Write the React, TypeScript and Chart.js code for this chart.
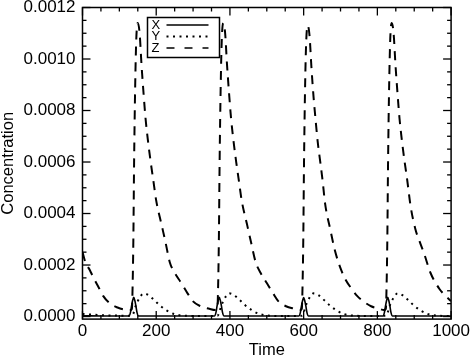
import React, { useEffect, useRef } from "react";
import { Chart, registerables } from "chart.js";

Chart.register(...registerables);

// ---- data ----
const xTicks = [0, 200, 400, 600, 800, 1000];
const yTicks = [0, 0.0002, 0.0004, 0.0006, 0.0008, 0.001, 0.0012];
const xMinorTicks = [50, 100, 150, 250, 300, 350, 450, 500, 550, 650, 700, 750, 850, 900, 950];
const yMinorTicks = [0.00005, 0.0001, 0.00015, 0.00025, 0.0003, 0.00035, 0.00045, 0.0005, 0.00055, 0.00065, 0.0007, 0.00075, 0.00085, 0.0009, 0.00095, 0.00105, 0.0011, 0.00115];

const seriesNames = ["X", "Y", "Z"];

const xTime = [0, 60, 126, 130, 133, 136, 139, 142, 145, 148, 152, 250, 358, 362, 365, 368, 371, 374, 377, 380, 384, 490, 587, 591, 594, 597, 600, 603, 606, 609, 613, 720, 815, 819, 822, 825, 828, 831, 834, 837, 841, 920, 1000];
const xVals = [0.000003, 0.000002, 0.000002, 0.000015, 0.00004, 0.000062, 0.000075, 0.000062, 0.00004, 0.000015, 0.000002, 0.000002, 0.000002, 0.000015, 0.00004, 0.000062, 0.000075, 0.000062, 0.00004, 0.000015, 0.000002, 0.000002, 0.000002, 0.000015, 0.00004, 0.000061, 0.000074, 0.000061, 0.00004, 0.000015, 0.000002, 0.000002, 0.000002, 0.000015, 0.00004, 0.000062, 0.000075, 0.000062, 0.00004, 0.000015, 0.000002, 0.000002, 0.000002];

const yTime = [0, 30, 80, 134, 139, 144, 150, 158, 166, 179, 196, 210, 228, 250, 279, 320, 366, 371, 376, 382, 390, 398, 411, 428, 442, 460, 482, 511, 550, 595, 600, 605, 611, 619, 627, 640, 657, 671, 689, 711, 740, 780, 823, 828, 833, 839, 847, 855, 868, 885, 899, 917, 939, 968, 1000];
const yVals = [0.00001, 0.000007, 0.000004, 0.000003, 0.000015, 0.00004, 0.00006, 0.00008, 0.00009, 0.000083, 0.000062, 0.000043, 0.000024, 0.000009, 0.000003, 0.000002, 0.000003, 0.000015, 0.00004, 0.00006, 0.00008, 0.00009, 0.000083, 0.000062, 0.000043, 0.000024, 0.000009, 0.000003, 0.000002, 0.000003, 0.000015, 0.00004, 0.00006, 0.00008, 0.00009, 0.000083, 0.000062, 0.000043, 0.000024, 0.000009, 0.000003, 0.000002, 0.000003, 0.000015, 0.00004, 0.00006, 0.00008, 0.00009, 0.000083, 0.000062, 0.000043, 0.000024, 0.000009, 0.000003, 0.000002];

const zTime = [0, 8, 20, 30, 45, 56, 75, 95, 115, 130, 134, 136, 138, 140, 143, 146, 150, 155, 160, 166, 171, 177, 185, 192, 200, 214, 225, 237, 250, 268, 285, 299, 320, 344, 360, 366, 368, 370, 372, 375, 378, 382, 387, 392, 398, 403, 409, 417, 424, 432, 446, 457, 470, 483, 500, 517, 531, 552, 576, 590, 595, 597, 599, 601, 604, 607, 611, 616, 621, 627, 632, 638, 646, 652, 658, 672, 685, 702, 715, 729, 745, 761, 783, 806, 818, 823, 825, 827, 829, 832, 835, 839, 844, 849, 855, 860, 866, 874, 881, 890, 903, 915, 927, 944, 968, 985, 1000];
const zVals = [0.00025, 0.00021, 0.00018, 0.00015, 0.00011, 0.00008, 0.00005, 0.000035, 0.000027, 0.000025, 0.00003, 0.00012, 0.0003, 0.0006, 0.0009, 0.00108, 0.00114, 0.0011, 0.00098, 0.00086, 0.00077, 0.00069, 0.0006, 0.00053, 0.00045, 0.00036, 0.00029, 0.00021, 0.00017, 0.00013, 0.00009, 0.00006, 0.00004, 0.00003, 0.000025, 0.00003, 0.00012, 0.0003, 0.0006, 0.0009, 0.00108, 0.00114, 0.0011, 0.00098, 0.00086, 0.00077, 0.00069, 0.0006, 0.00053, 0.00045, 0.00036, 0.00029, 0.00021, 0.00017, 0.00013, 0.00009, 0.00006, 0.00004, 0.00003, 0.000025, 0.00003, 0.00012, 0.0003, 0.0006, 0.0009, 0.00107, 0.00113, 0.00109, 0.00097, 0.00085, 0.00077, 0.00068, 0.00059, 0.00052, 0.00044, 0.00034, 0.000255, 0.00018, 0.00014, 0.00011, 0.00008, 0.00006, 0.00004, 0.00003, 0.000025, 0.00003, 0.00012, 0.0003, 0.0006, 0.0009, 0.00108, 0.00114, 0.0011, 0.00098, 0.00086, 0.00077, 0.00069, 0.0006, 0.00053, 0.00043, 0.00034, 0.00029, 0.000244, 0.00017, 0.000108, 0.00008, 0.00006];

const FONT = "'Liberation Sans', Arial, Helvetica, sans-serif";
const Y_DASH = [2, 4.5];
const Z_DASH = [9, 7];

const toPts = (t: number[], v: number[]) => t.map((tt, i) => ({ x: tt, y: v[i] }));

const framePlugin = {
  id: "frameTicks",
  afterDatasetsDraw(chart: any) {
    const { ctx, chartArea: a, scales } = chart;
    const xs = scales.x;
    const ys = scales.y;
    ctx.save();
    ctx.strokeStyle = "#000";
    ctx.lineWidth = 1.5;
    ctx.strokeRect(a.left, a.top, a.right - a.left, a.bottom - a.top);
    ctx.lineWidth = 1.3;
    const seg = (x1: number, y1: number, x2: number, y2: number) => {
      ctx.beginPath();
      ctx.moveTo(x1, y1);
      ctx.lineTo(x2, y2);
      ctx.stroke();
    };
    const xt = (vals: number[], len: number) =>
      vals.forEach((v) => {
        const p = xs.getPixelForValue(v);
        seg(p, a.bottom, p, a.bottom - len);
        seg(p, a.top, p, a.top + len);
      });
    const yt = (vals: number[], len: number) =>
      vals.forEach((v) => {
        const p = ys.getPixelForValue(v);
        seg(a.left, p, a.left + len, p);
        seg(a.right, p, a.right - len, p);
      });
    xt(xTicks, 8);
    xt(xMinorTicks, 4);
    yt(yTicks, 8);
    yt(yMinorTicks, 4);
    ctx.restore();
  },
};

const legendPlugin = {
  id: "boxLegend",
  afterDraw(chart: any) {
    const { ctx, chartArea: a } = chart;
    const left = a.left + 65;
    const top = a.top + 10;
    const w = 72;
    const h = 40;
    ctx.save();
    ctx.fillStyle = "#fff";
    ctx.fillRect(left, top, w, h);
    ctx.strokeStyle = "#000";
    ctx.lineWidth = 1.5;
    ctx.strokeRect(left, top, w, h);
    ctx.font = `13px ${FONT}`;
    ctx.fillStyle = "#000";
    ctx.textBaseline = "middle";
    const dashes = [[], Y_DASH, [8, 10]];
    seriesNames.forEach((name, i) => {
      const cy = top + 7.5 + i * 11.5;
      ctx.fillText(name, left + 4, cy);
      ctx.setLineDash(dashes[i]);
      ctx.lineWidth = i === 1 ? 2 : 1.6;
      ctx.beginPath();
      ctx.moveTo(left + 19, cy);
      ctx.lineTo(left + 61, cy);
      ctx.stroke();
    });
    ctx.restore();
  },
};

export default function App() {
  const ref = useRef<HTMLCanvasElement | null>(null);
  useEffect(() => {
    document.body.style.margin = "0";
    const chart = new Chart(ref.current as HTMLCanvasElement, {
      type: "line",
      data: {
        datasets: [
          {
            label: "X",
            data: toPts(xTime, xVals),
            borderColor: "#000",
            borderWidth: 1.6,
            pointRadius: 0,
            cubicInterpolationMode: "monotone",
          },
          {
            label: "Y",
            data: toPts(yTime, yVals),
            borderColor: "#000",
            borderWidth: 2,
            borderDash: Y_DASH,
            pointRadius: 0,
            cubicInterpolationMode: "monotone",
          },
          {
            label: "Z",
            data: toPts(zTime, zVals),
            borderColor: "#000",
            borderWidth: 2,
            borderDash: Z_DASH,
            pointRadius: 0,
            cubicInterpolationMode: "monotone",
          },
        ],
      },
      options: {
        animation: false,
        responsive: true,
        maintainAspectRatio: false,
        layout: { padding: { right: 2 } },
        plugins: { legend: { display: false }, tooltip: { enabled: false } },
        scales: {
          x: {
            type: "linear",
            min: 0,
            max: 1000,
            grid: { display: false, drawTicks: false },
            border: { display: false },
            afterBuildTicks: (s: any) => {
              s.ticks = xTicks.map((v) => ({ value: v }));
            },
            ticks: {
              color: "#000",
              font: { family: FONT, size: 17, lineHeight: 1 },
              padding: 4,
              maxRotation: 0,
              autoSkip: false,
              callback: (v: any) => String(v),
            },
            title: {
              display: true,
              text: "Time",
              color: "#000",
              font: { family: FONT, size: 16.5, lineHeight: 0.6 },
              padding: { top: 1, bottom: 0 },
            },
          },
          y: {
            type: "linear",
            min: -0.00001,
            max: 0.0012,
            grid: { display: false, drawTicks: false },
            border: { display: false },
            afterBuildTicks: (s: any) => {
              s.ticks = yTicks.map((v) => ({ value: v }));
            },
            ticks: {
              color: "#000",
              font: { family: FONT, size: 17, lineHeight: 1 },
              padding: 7,
              autoSkip: false,
              callback: (v: any) => Number(v).toFixed(4),
            },
            title: {
              display: true,
              text: "Concentration",
              color: "#000",
              font: { family: FONT, size: 16.5, lineHeight: 1 },
              padding: { top: 0, bottom: 0 },
            },
          },
        },
      },
      plugins: [framePlugin, legendPlugin],
    });
    return () => chart.destroy();
  }, []);
  return (
    <div style={{ position: "fixed", left: 0, top: -8, width: 474, height: 363 }}>
      <canvas ref={ref} />
    </div>
  );
}
